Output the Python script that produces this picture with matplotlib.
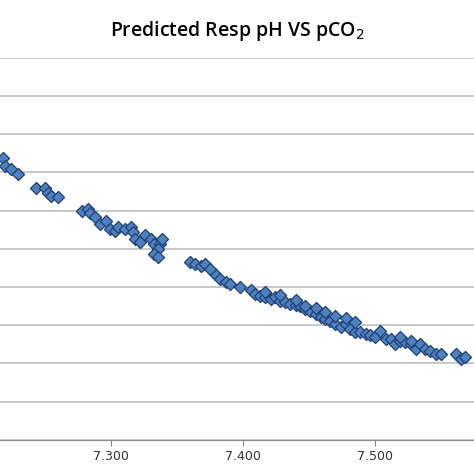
import matplotlib.pyplot as plt
from matplotlib.ticker import FormatStrFormatter

# Respiratory pH vs pCO2 (y labels are cropped in the original)
ph = [7.218, 7.220, 7.224, 7.230, 7.243, 7.250, 7.252, 7.255, 7.260,
      7.278, 7.283, 7.284, 7.288, 7.292, 7.296, 7.299, 7.303,
      7.305, 7.311, 7.315, 7.317, 7.318, 7.322, 7.326, 7.330, 7.333, 7.337, 7.339, 7.336, 7.333, 7.336,
      7.360, 7.364, 7.368, 7.371, 7.379, 7.375, 7.383, 7.387, 7.390, 7.398,
      7.406, 7.409, 7.413, 7.417, 7.421, 7.424, 7.428, 7.432, 7.436, 7.440,
      7.443, 7.447, 7.451, 7.455, 7.459, 7.462, 7.466, 7.470, 7.474, 7.478,
      7.481, 7.485, 7.489, 7.493, 7.496, 7.500, 7.504, 7.508, 7.512, 7.515,
      7.519, 7.523, 7.527, 7.531, 7.534, 7.538, 7.542, 7.546, 7.550, 7.561, 7.565, 7.568,
      7.417, 7.428, 7.440, 7.447, 7.455, 7.462, 7.470, 7.478, 7.485, 7.519, 7.527]
pco2 = [73.7, 71.8, 70.8, 69.7, 65.8, 65.8, 64.7, 63.9, 63.7,
        60.0, 60.5, 59.5, 58.4, 56.6, 57.4, 55.3, 54.7,
        55.8, 55.3, 55.8, 54.5, 52.6, 51.8, 53.7, 52.6, 51.3, 51.3, 52.6, 50.0, 48.7, 47.9,
        46.6, 46.1, 45.5, 46.1, 43.4, 44.7, 42.1, 41.3, 40.8, 40.0,
        39.2, 38.2, 37.6, 37.4, 36.8, 37.4, 36.3, 36.1, 35.5, 35.3,
        35.0, 34.2, 33.7, 32.9, 32.1, 31.6, 31.1, 30.3, 29.5, 30.3,
        28.9, 28.2, 28.2, 27.6, 27.4, 26.8, 28.4, 26.3, 26.3, 25.0,
        25.8, 25.5, 25.0, 23.7, 25.0, 23.7, 23.2, 22.4, 22.4, 22.4, 21.1, 21.6,
        38.8, 37.9, 36.6, 35.0, 34.6, 33.4, 32.5, 31.8, 30.8, 27.0, 26.0]

fig = plt.figure(figsize=(4.74, 4.74), dpi=100)
ax = fig.add_axes([0.0, 0.072, 1.0, 0.806])

ax.scatter(ph, pco2, marker="D", s=38, facecolor="#4F81BD",
           edgecolor="#1F3F77", linewidth=0.9, zorder=3)

ax.set_xlim(7.216, 7.575)
ax.set_ylim(0, 100)
ax.set_xticks([7.3, 7.4, 7.5])
ax.xaxis.set_major_formatter(FormatStrFormatter("%.3f"))
ax.set_yticks(range(0, 101, 10))
ax.set_yticklabels([])
ax.tick_params(axis="y", length=0)
ax.tick_params(axis="x", length=4, color="#888888", labelsize=9, labelcolor="#333333")
ax.grid(axis="y", color="#BFBFBF", linewidth=1.2)
for side in ["top", "right", "left"]:
    ax.spines[side].set_visible(False)
ax.spines["bottom"].set_color("#888888")

fig.text(0.5, 0.935, "Predicted Resp pH VS pCO$_2$", ha="center", va="center",
         fontsize=14, fontweight="semibold", family="Open Sans")

fig.savefig("out.png", dpi=100)
